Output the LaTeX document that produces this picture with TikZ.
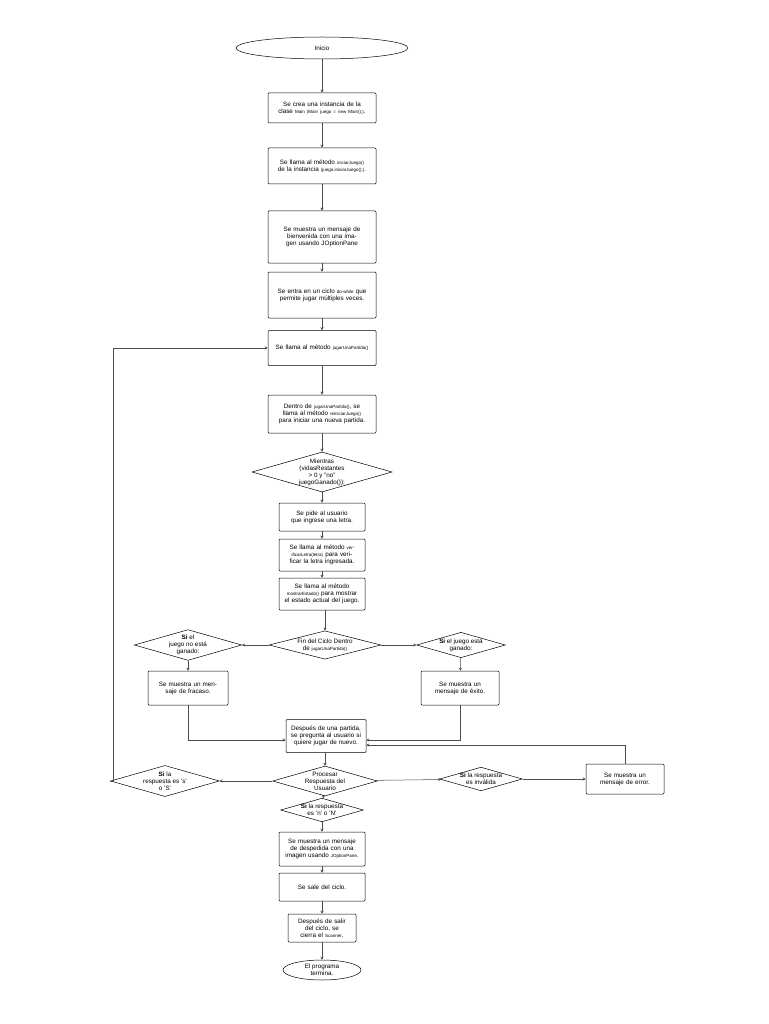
\documentclass[tikz,border=0pt]{standalone}
\usepackage{fontspec}
\setmainfont{Liberation Sans}
\usetikzlibrary{shapes.geometric,arrows.meta}
\newcommand{\cd}[1]{{\fontsize{4.5}{7}\selectfont #1}}
\begin{document}
\begin{tikzpicture}[x=1pt,y=-1pt,
  every node/.style={font=\fontsize{6.3}{7}\selectfont, align=center, inner sep=1pt},
  pbox/.style={draw, rounded corners=1pt, line width=0.5pt, text width=#1-6pt, minimum height=20pt},
  pbox/.default=112pt,
  dec/.style={draw, diamond, aspect=3.5, line width=0.5pt, inner sep=0pt},
  term/.style={draw, ellipse, line width=0.5pt, inner sep=0pt},
  ar/.style={draw=black!70, line width=0.5pt, -{Stealth[length=3pt,width=3pt]}}]
\useasboundingbox (0,0) rectangle (768,1024);
\node[term, minimum width=172pt, minimum height=22pt] (ini) at (322,48) {Inicio};
\node[pbox, minimum height=30pt] (b1) at (322,108) {Se crea una instancia de la clase \cd{Main (Main juego = new Main();)}.};
\node[pbox, minimum height=36pt] (b2) at (322,166) {Se llama al método \cd{iniciarJuego()} de la instancia \cd{(juego.iniciarJuego();)}.};
\node[pbox, minimum height=52pt] (b3) at (322,237) {Se muestra un mensaje de bienvenida con una imagen usando JOptionPane};
\node[pbox, minimum height=46pt] (b4) at (322,295) {Se entra en un ciclo \cd{do-while} que permite jugar múltiples veces.};
\node[pbox, minimum height=35pt] (b5) at (322,348) {Se llama al método \cd{jugarUnaPartida()}};
\node[pbox, minimum height=38pt] (b6) at (322,414) {Dentro de \cd{jugarUnaPartida()}, se llama al método \cd{reiniciarJuego()} para iniciar una nueva partida.};
\node[dec, minimum width=140pt, minimum height=30pt] (d1) at (322,472) {Mientras\\(vidasRestantes\\> 0 y "no"\\juegoGanado()):};
\node[pbox=90pt, minimum height=28pt] (b7) at (322,517) {Se pide al usuario que ingrese una letra.};
\node[pbox=90pt, minimum height=32pt] (b8) at (322,555) {Se llama al método \cd{verificarLetra(letra)} para verificar la letra ingresada.};
\node[pbox=90pt, minimum height=32pt] (b9) at (322,594) {Se llama al método \cd{mostrarEstado()} para mostrar el estado actual del juego.};
\node[dec, minimum width=112pt, minimum height=18pt] (d2) at (325,645) {Fin del Ciclo Dentro\\de \cd{jugarUnaPartida()}};
\node[dec, minimum width=92pt, minimum height=30pt] (d3) at (188,645) {\textbf{Si} el\\juego no está\\ganado:};
\node[dec, minimum width=80pt, minimum height=22pt] (d4) at (461,645) {\textbf{Si} el juego está\\ganado:};
\node[pbox=84pt, minimum height=34pt] (b10) at (188,688) {Se muestra un mensaje de fracaso.};
\node[pbox=82pt, minimum height=34pt] (b11) at (460,688) {Se muestra un mensaje de éxito.};
\node[pbox=84pt, minimum height=33pt] (b12) at (326,736) {Después de una partida, se pregunta al usuario si quiere jugar de nuevo.};
\node[dec, minimum width=82pt, minimum height=22pt] (d5) at (325,781) {Procesar\\Respuesta del\\Usuario};
\node[dec, minimum width=102pt, minimum height=24pt] (d6) at (165,781) {\textbf{Si} la\\respuesta es 's'\\o 'S'};
\node[dec, minimum width=80pt, minimum height=20pt] (d7) at (481,779) {\textbf{Si} la respuesta\\es inválida};
\node[pbox=82pt, minimum height=30pt] (b13) at (625,779) {Se muestra un mensaje de error.};
\node[dec, minimum width=78pt, minimum height=18pt] (d8) at (322,810) {\textbf{Si} la respuesta\\es 'n' o 'N'};
\node[pbox=90pt, minimum height=34pt] (b14) at (322,849) {Se muestra un mensaje de despedida con una imagen usando \cd{JOptionPane}.};
\node[pbox=90pt, minimum height=28pt] (b15) at (322,887) {Se sale del ciclo.};
\node[pbox=72pt, minimum height=28pt] (b16) at (322,928) {Después de salir del ciclo, se cierra el \cd{Scanner}.};
\node[term, minimum width=78pt, minimum height=20pt] (fin) at (322,970) {El programa\\termina.};
\draw[ar] (ini) -- (b1);
\draw[ar] (b1) -- (b2);
\draw[ar] (b2) -- (b3);
\draw[ar] (b3) -- (b4);
\draw[ar] (b4) -- (b5);
\draw[ar] (b5) -- (b6);
\draw[ar] (b6) -- (d1);
\draw[ar] (d1) -- (b7);
\draw[ar] (b7) -- (b8);
\draw[ar] (b8) -- (b9);
\draw[ar] (b9.south -| d2) -- (d2);
\draw[ar] (d2) -- (d3);
\draw[ar] (d2) -- (d4);
\draw[ar] (d3) -- (b10);
\draw[ar] (d4) -- (b11);
\draw[ar] (b10.south) |- (b12.west |- 0,740);
\draw[ar] (b11.south) |- (b12.east |- 0,740);
\draw[ar] (b13.north) |- (b12.east |- 0,745);
\draw[ar] (b12.south -| d5) -- (d5);
\draw[ar] (d5) -- (d6);
\draw[ar] (d5) -- (d7);
\draw[ar] (d7) -- (b13);
\draw[ar] (d6.west) -| (113,348) -- (b5.west);
\draw[ar] (d5) -- (d8);
\draw[ar] (d8) -- (b14);
\draw[ar] (b14) -- (b15);
\draw[ar] (b15) -- (b16);
\draw[ar] (b16) -- (fin);
\end{tikzpicture}
\end{document}
